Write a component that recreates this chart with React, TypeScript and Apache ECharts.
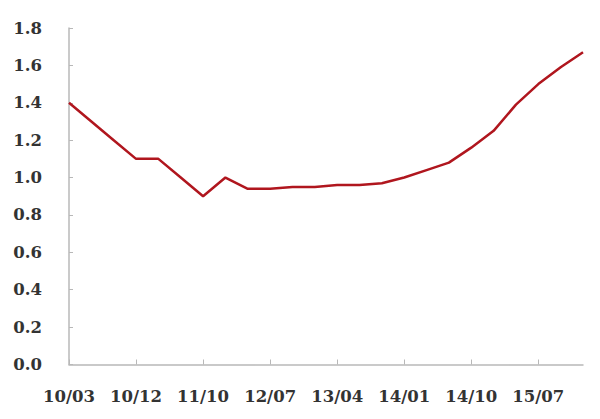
import React, { useEffect, useRef } from "react";
import * as echarts from "echarts";

const categories = [
  "10/03", "10/06", "10/09", "10/12", "11/04", "11/07", "11/10", "12/01",
  "12/04", "12/07", "12/10", "13/01", "13/04", "13/07", "13/10", "14/01",
  "14/04", "14/07", "14/10", "15/01", "15/04", "15/07", "15/10", "16/01",
];
const values = [
  1.40, 1.30, 1.20, 1.10, 1.10, 1.00, 0.90, 1.00,
  0.94, 0.94, 0.95, 0.95, 0.96, 0.96, 0.97, 1.00,
  1.04, 1.08, 1.16, 1.25, 1.39, 1.50, 1.59, 1.67,
];
const shownLabels = ["10/03", "10/12", "11/10", "12/07", "13/04", "14/01", "14/10", "15/07"];

export default function App() {
  const ref = useRef<HTMLDivElement>(null);
  useEffect(() => {
    if (!ref.current) return;
    const chart = echarts.init(ref.current, null, { renderer: "svg" });
    const font = "'DejaVu Serif', 'Liberation Serif', serif";
    chart.setOption({
      animation: false,
      backgroundColor: "#ffffff",
      grid: { left: 69, right: 17, top: 28, bottom: 54.5, containLabel: false },
      xAxis: {
        type: "category",
        data: categories,
        boundaryGap: false,
        axisLine: { lineStyle: { color: "#b8b8b8", width: 1.5 } },
        axisTick: {
          inside: true,
          length: 5,
          interval: (i: number) => shownLabels.includes(categories[i]),
          lineStyle: { color: "#b8b8b8" },
        },
        axisLabel: {
          interval: (i: number) => shownLabels.includes(categories[i]),
          margin: 23,
          color: "#333",
          fontFamily: font,
          fontSize: 16.5,
          fontWeight: "bold",
        },
        splitLine: { show: false },
      },
      yAxis: {
        type: "value",
        min: 0,
        max: 1.8,
        interval: 0.2,
        axisLine: { show: true, lineStyle: { color: "#b8b8b8", width: 1.5 } },
        axisTick: { show: true, inside: true, length: 4, lineStyle: { color: "#b8b8b8" } },
        axisLabel: {
          formatter: (v: number) => v.toFixed(1),
          margin: 27,
          color: "#333",
          fontFamily: font,
          fontSize: 16.5,
          fontWeight: "bold",
        },
        splitLine: { show: false },
      },
      series: [
        {
          type: "line",
          data: values,
          showSymbol: false,
          lineStyle: { color: "#b0161e", width: 2.5 },
          itemStyle: { color: "#b0161e" },
        },
      ],
    });
    return () => chart.dispose();
  }, []);
  return <div ref={ref} style={{ width: 600, height: 419, margin: -8 }} />;
}
